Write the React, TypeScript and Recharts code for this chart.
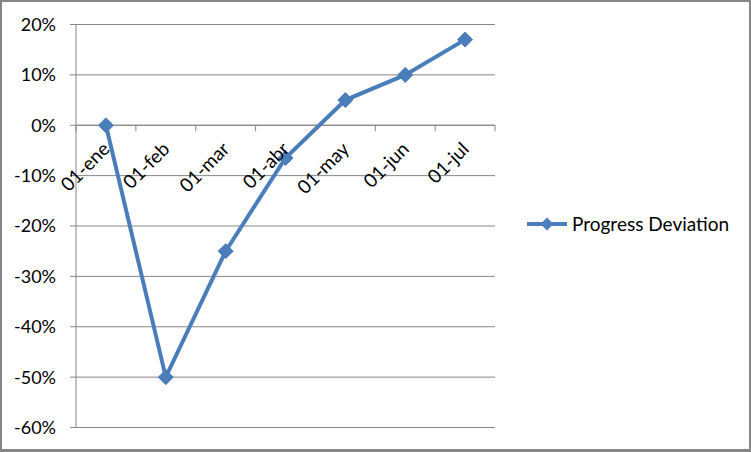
import { CartesianGrid, Legend, Line, LineChart, ReferenceLine, XAxis, YAxis } from "recharts";

const MONTHS = ["01-ene", "01-feb", "01-mar", "01-abr", "01-may", "01-jun", "01-jul"];
const DEVIATION = [0, -50, -25, -6.5, 5, 10, 17];
const Y_TICKS = [20, 10, 0, -10, -20, -30, -40, -50, -60];

const DATA = MONTHS.map((m, i) => ({ month: m, deviation: DEVIATION[i] }));

const W = 751;
const H = 452;
const X_AXIS_H = 24.5;
const MARGIN = { top: 24.5, right: 256, bottom: 0, left: 0 };
const Y_AXIS_W = 76;
const PLOT_W = W - MARGIN.right - Y_AXIS_W;
const PLOT_H = H - MARGIN.top - MARGIN.bottom - X_AXIS_H;
const STEP = PLOT_W / MONTHS.length;
const Y_MIN = -60;
const Y_MAX = 20;
const ZERO_SHIFT = (PLOT_H * (0 - Y_MIN)) / (Y_MAX - Y_MIN);

const BLUE = "#4a7ebb";
const GRID = "#868686";
const FONT = "Lato, 'Noto Sans', sans-serif";

function diamondPoints(cx: number, cy: number, r: number) {
  return `${cx},${cy - r} ${cx + r},${cy} ${cx},${cy + r} ${cx - r},${cy}`;
}

function renderDot(props: any) {
  const { cx, cy, index } = props;
  if (cx == null || cy == null) return <g key={index} />;
  return <polygon key={index} points={diamondPoints(cx, cy, 7.5)} fill={BLUE} stroke={BLUE} />;
}

// Excel puts the category axis on the 0% line, so ticks are drawn shifted up from the plot bottom
function MonthTick(props: any) {
  const { x, y, index, payload } = props;
  const zeroY = y - ZERO_SHIFT;
  const tx = x + 5;
  const ty = zeroY + 25;
  return (
    <g>
      <line x1={x - STEP / 2} x2={x - STEP / 2} y1={zeroY} y2={zeroY + 6} stroke={GRID} />
      {index === MONTHS.length - 1 && (
        <line x1={x + STEP / 2} x2={x + STEP / 2} y1={zeroY} y2={zeroY + 6} stroke={GRID} />
      )}
      <text
        x={tx}
        y={ty}
        transform={`rotate(-45 ${tx} ${ty})`}
        textAnchor="end"
        fontSize={19}
        fontFamily={FONT}
        fill="#000"
      >
        {payload.value}
      </text>
    </g>
  );
}

function LegendBox() {
  return (
    <div style={{ display: "flex", alignItems: "center", fontFamily: FONT, fontSize: 19, color: "#000" }}>
      <svg width={44} height={20}>
        <line x1={2} x2={42} y1={10} y2={10} stroke={BLUE} strokeWidth={4} />
        <polygon points={diamondPoints(22, 10, 6.5)} fill={BLUE} />
      </svg>
      <span style={{ marginLeft: 3 }}>Progress Deviation</span>
    </div>
  );
}

export default function App() {
  return (
    <div style={{ position: "absolute", left: 0, top: 0, width: W, height: H, background: "#fff" }}>
      <LineChart width={W} height={H} data={DATA} margin={MARGIN}>
        <CartesianGrid vertical={false} stroke={GRID} />
        <XAxis
          dataKey="month"
          axisLine={false}
          tickLine={false}
          tickSize={0}
          tickMargin={0}
          height={X_AXIS_H}
          padding={{ left: STEP / 2, right: STEP / 2 }}
          tick={<MonthTick />}
          interval={0}
        />
        <YAxis
          width={Y_AXIS_W}
          domain={[Y_MIN, Y_MAX]}
          ticks={Y_TICKS}
          interval={0}
          stroke={GRID}
          tickSize={6}
          tickMargin={14}
          tickFormatter={(v) => `${v}%`}
          tick={{ fill: "#000", fontSize: 18, fontFamily: FONT }}
        />
        <ReferenceLine y={0} stroke={GRID} />
        <Legend
          layout="horizontal"
          align="center"
          verticalAlign="middle"
          content={<LegendBox />}
          wrapperStyle={{ left: 525, top: 212, width: "auto" }}
        />
        <Line
          dataKey="deviation"
          stroke={BLUE}
          strokeWidth={4}
          dot={renderDot}
          activeDot={false}
          isAnimationActive={false}
        />
      </LineChart>
      <div
        style={{
          position: "absolute",
          inset: 0,
          border: `2px solid ${GRID}`,
          borderBottomWidth: 3,
          pointerEvents: "none",
        }}
      />
    </div>
  );
}
